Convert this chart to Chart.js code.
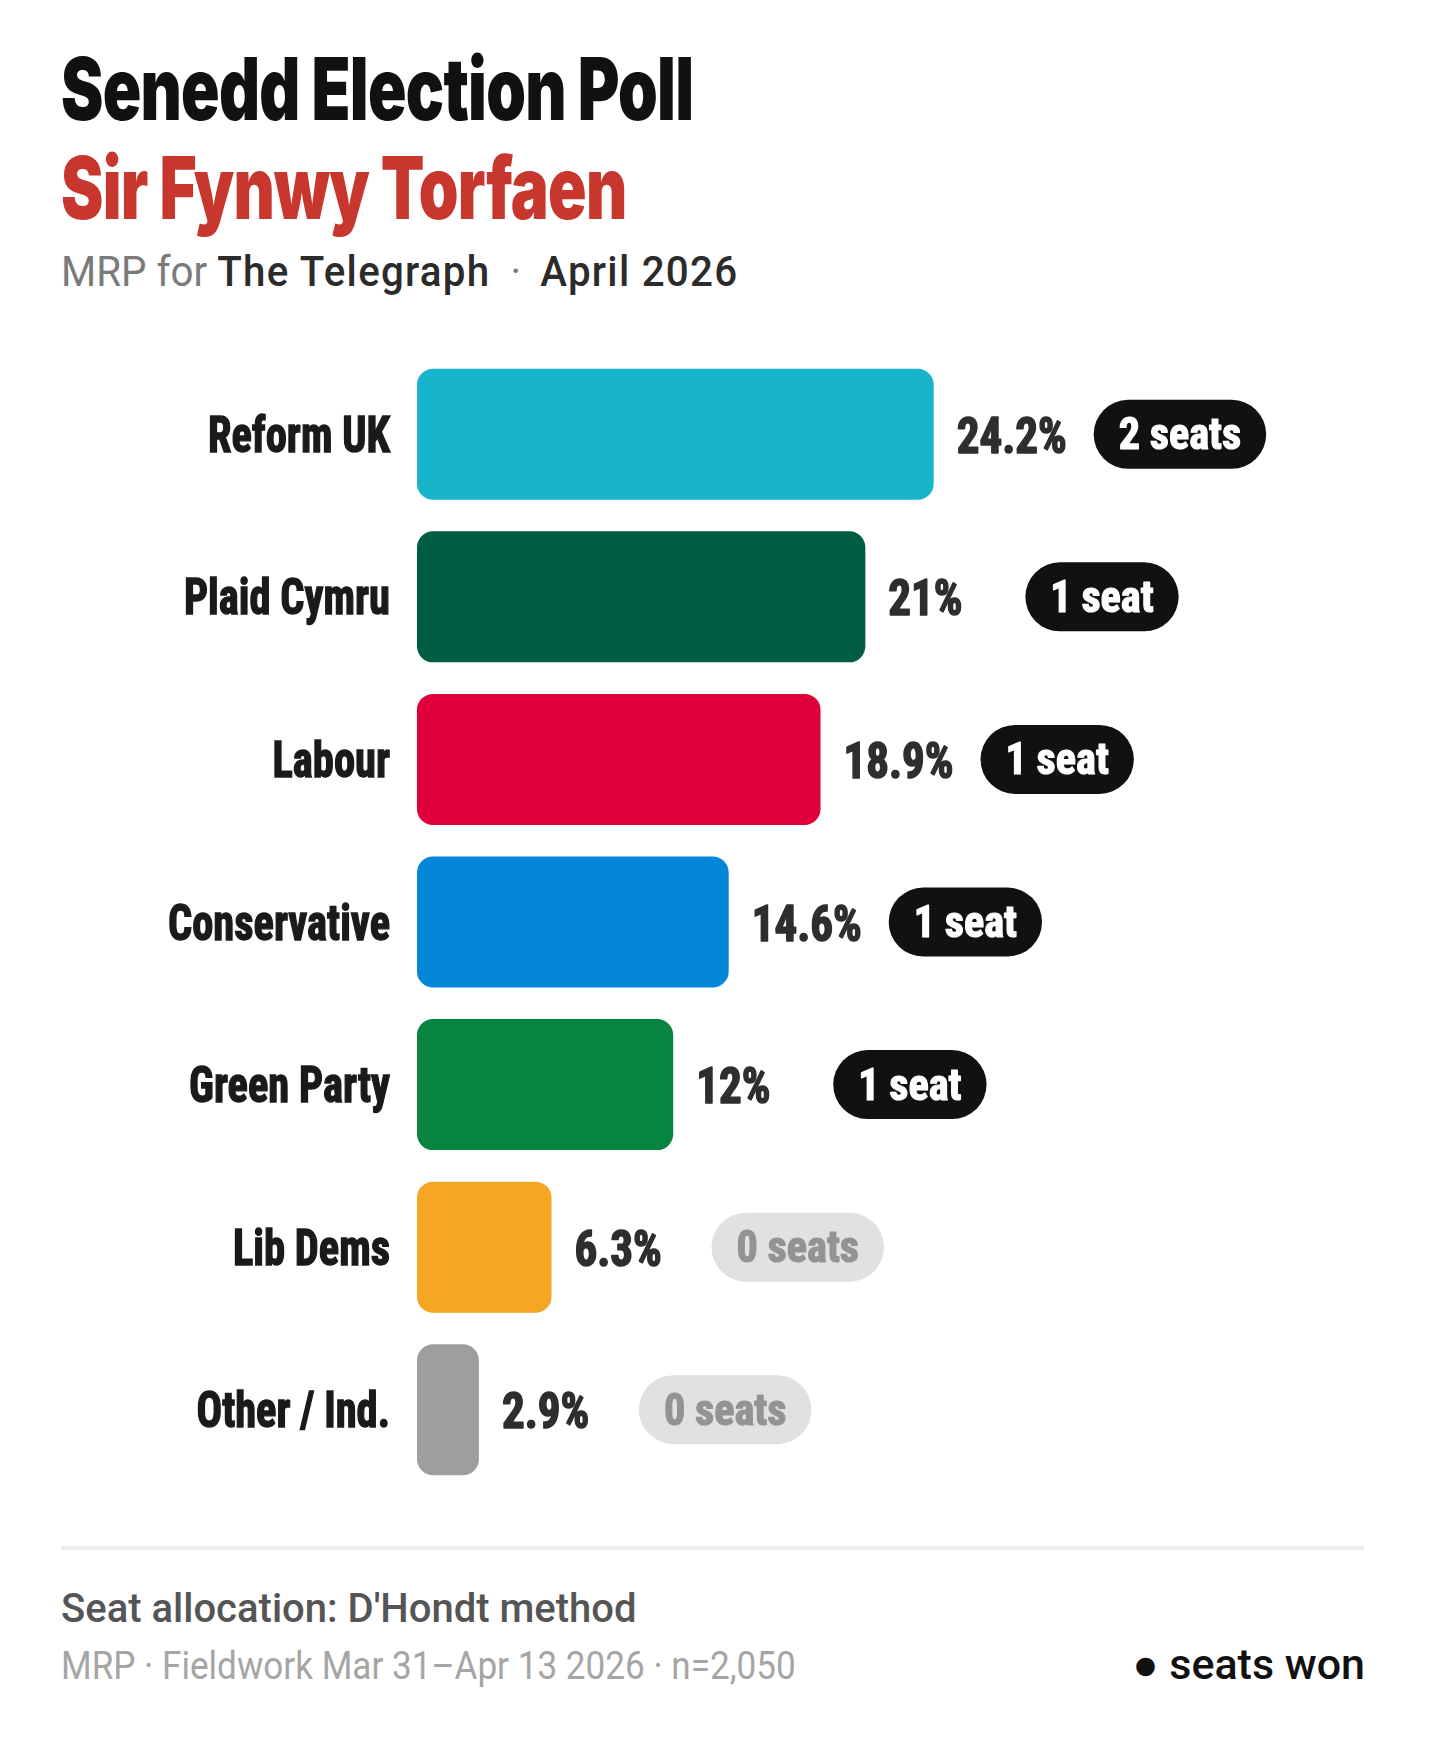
<!DOCTYPE html>
<html>
<head>
<meta charset="utf-8">
<script src="https://cdn.jsdelivr.net/npm/chart.js@4.4.1/dist/chart.umd.min.js"></script>
<style>
  html,body{margin:0;padding:0;background:#fff;}
  body{width:1440px;height:1739px;position:relative;overflow:hidden;font-family:Roboto,'Noto Sans',sans-serif;}
  .t1,.t2{position:absolute;left:61px;font-family:Inter,'Noto Sans',sans-serif;font-weight:900;font-size:86px;line-height:1;transform-origin:0 0;transform:scaleX(0.74);white-space:nowrap;letter-spacing:-1px;}
  .t1{top:46px;color:#111;}
  .t2{top:145px;color:#c8372d;}
  .sub{position:absolute;left:61px;top:251px;font-size:42px;line-height:1;white-space:nowrap;color:#7a7a7a;transform-origin:0 0;transform:scaleX(0.96);}
  .sub b{color:#2b2b2b;font-weight:500;letter-spacing:1.3px;}
  .sub .dot{margin:0 20px 0 21px;}
  #wrap{position:absolute;left:0;top:353px;width:1440px;height:1138px;}
  .rule{position:absolute;left:61px;width:1303px;top:1546px;height:4px;background:#ececec;}
  .f1{position:absolute;left:61px;top:1589px;font-size:40px;font-weight:500;color:#555;white-space:nowrap;line-height:1;}
  .f2{position:absolute;left:61px;top:1647px;font-size:39px;font-weight:400;color:#a5a5a5;white-space:nowrap;transform-origin:0 0;transform:scaleX(0.9);line-height:1;}
  .f3{position:absolute;right:75px;top:1643px;font-size:43px;font-weight:500;color:#111;white-space:nowrap;line-height:1;}
</style>
</head>
<body>
<div class="t1">Senedd Election Poll</div>
<div class="t2">Sir Fynwy Torfaen</div>
<div class="sub">MRP for <b>The Telegraph</b><span class="dot">·</span><b>April 2026</b></div>
<div id="wrap"><canvas id="c"></canvas></div>
<div class="rule"></div>
<div class="f1">Seat allocation: D'Hondt method</div>
<div class="f2">MRP · Fieldwork Mar 31–Apr 13 2026 · n=2,050</div>
<div class="f3">● seats won</div>
<script>
const categories = ['Reform UK', 'Plaid Cymru', 'Labour', 'Conservative', 'Green Party', 'Lib Dems', 'Other / Ind.'];
const shares = [24.2, 21, 18.9, 14.6, 12, 6.3, 2.9];
const shareLabels = ['24.2%', '21%', '18.9%', '14.6%', '12%', '6.3%', '2.9%'];
const seats = [2, 1, 1, 1, 1, 0, 0];
const seatLabels = ['2 seats', '1 seat', '1 seat', '1 seat', '1 seat', '0 seats', '0 seats'];
const partyColors = ['#17b4cb', '#005c42', '#e0003a', '#0587d9', '#07843f', '#f5a623', '#9e9e9e'];

const CFONT = "'Roboto Condensed', 'DejaVu Sans Condensed', sans-serif";
const TICK_PAD = 27;
const TICK_SX = 0.85;
const VAL_SX = 0.9;
const PILL_SX = 0.96;

// condense the y-axis tick labels horizontally (drawn by the axis itself)
const condenseTicks = {
  id: 'condenseTicks',
  afterLayout(chart) {
    const s = chart.scales.y;
    if (!s || s.__condensed) return;
    const orig = s.drawLabels.bind(s);
    s.drawLabels = function (area) {
      const ctx = this.ctx;
      const ax = this.right - TICK_PAD;
      ctx.save();
      ctx.translate(ax, 5);
      ctx.scale(TICK_SX, 1);
      ctx.translate(-ax, 0);
      orig(area);
      ctx.restore();
    };
    s.__condensed = true;
  }
};

const labelPlugin = {
  id: 'valueLabels',
  afterDatasetsDraw(chart) {
    const ctx = chart.ctx;
    const meta = chart.getDatasetMeta(0);
    meta.data.forEach((bar, i) => {
      const x = bar.x, y = bar.y;
      ctx.save();
      ctx.textBaseline = 'middle';
      ctx.font = "700 50px " + CFONT;
      ctx.fillStyle = '#2e2e2e';
      ctx.strokeStyle = '#2e2e2e';
      ctx.lineWidth = 1.6;
      ctx.lineJoin = 'round';
      ctx.translate(x + 23, y + 6);
      ctx.scale(VAL_SX, 1);
      ctx.fillText(shareLabels[i], 0, 0);
      ctx.strokeText(shareLabels[i], 0, 0);
      ctx.restore();

      ctx.save();
      ctx.font = "700 44px " + CFONT;
      const tw = ctx.measureText(seatLabels[i]).width * PILL_SX;
      const pw = tw + 50, ph = 69, px = x + 160, py = y - ph / 2;
      ctx.fillStyle = seats[i] > 0 ? '#111111' : '#e1e1e1';
      ctx.beginPath();
      ctx.roundRect(px, py, pw, ph, ph / 2);
      ctx.fill();
      const tc = seats[i] > 0 ? '#ffffff' : '#939393';
      ctx.fillStyle = tc;
      ctx.strokeStyle = tc;
      ctx.lineWidth = 1.2;
      ctx.lineJoin = 'round';
      ctx.textBaseline = 'middle';
      ctx.translate(px + 25, y + 4);
      ctx.scale(PILL_SX, 1);
      ctx.fillText(seatLabels[i], 0, 0);
      ctx.strokeText(seatLabels[i], 0, 0);
      ctx.restore();
    });
  }
};

new Chart(document.getElementById('c'), {
  type: 'bar',
  data: {
    labels: categories,
    datasets: [{
      data: shares,
      backgroundColor: partyColors,
      borderRadius: 16,
      borderSkipped: false,
      barPercentage: 0.806,
      categoryPercentage: 1
    }]
  },
  options: {
    indexAxis: 'y',
    responsive: true,
    maintainAspectRatio: false,
    animation: false,
    layout: { padding: { left: 0, right: 169, top: 0, bottom: 0 } },
    plugins: { legend: { display: false }, tooltip: { enabled: false } },
    scales: {
      x: { display: false, min: 0, max: 40 },
      y: {
        afterFit(scale) {
          scale.width = 417;
          scale.paddingTop = 0;
          scale.paddingBottom = 0;
        },
        grid: { display: false, drawTicks: false },
        border: { display: false },
        ticks: {
          padding: TICK_PAD,
          color: '#1a1a1a',
          textStrokeColor: '#1a1a1a',
          textStrokeWidth: 1.4,
          font: { family: CFONT, weight: '700', size: 50 }
        }
      }
    }
  },
  plugins: [condenseTicks, labelPlugin]
});
</script>
</body>
</html>
